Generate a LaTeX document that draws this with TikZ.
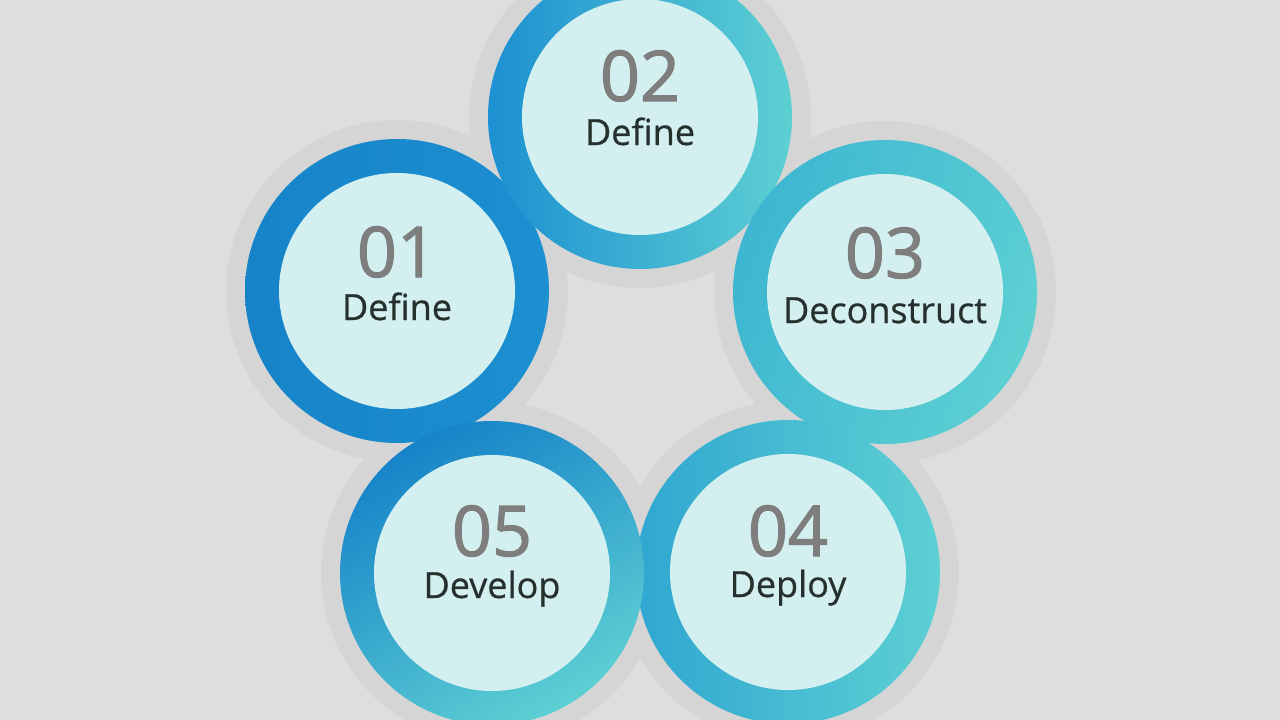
\documentclass[tikz,border=0pt]{standalone}
\usepackage{fontspec}
\setmainfont{Open Sans}
\newfontfamily\numfont[FakeBold=1.6]{Open Sans}
\newfontfamily\labfont[FakeBold=0.6]{Open Sans}
\definecolor{bggray}{HTML}{DEDEDE}
\definecolor{halogray}{HTML}{D5D5D5}
\definecolor{discfill}{HTML}{D4EFEF}
\definecolor{numgray}{HTML}{7E7E7E}
\definecolor{labdark}{HTML}{25302F}
\definecolor{blueA}{HTML}{1683C8}
\definecolor{blueB}{HTML}{1C90D1}
\definecolor{tealA}{HTML}{3DB6D1}
\definecolor{tealB}{HTML}{5DD0D3}
\tikzset{
  halo/.style={circle, fill=halogray, minimum size=342pt, inner sep=0pt},
  ringbase/.style={circle, minimum size=304pt, inner sep=0pt},
  disc/.style={circle, fill=discfill, minimum size=236pt, inner sep=0pt},
  numtext/.style={anchor=base, text=numgray, inner sep=0pt, font=\numfont\fontsize{70}{80}\selectfont},
  labtext/.style={anchor=base, text=labdark, inner sep=0pt, font=\labfont\fontsize{36}{43}\selectfont},
}
\begin{document}
\begin{tikzpicture}[x=1pt,y=-1pt]
\useasboundingbox (0,0) rectangle (1280,720);
\clip (0,0) rectangle (1280,720);
\fill[bggray] (0,0) rectangle (1280,720);
% centres
\coordinate (p1) at (397,291);
\coordinate (p2) at (640,117);
\coordinate (p3) at (885,292);
\coordinate (p4) at (788,572);
\coordinate (p5) at (492,573);
% halos
\foreach \i in {1,...,5} { \node[halo] (h\i) at (p\i) {}; }
% rings
\node[ringbase, top color=blueA, bottom color=blueB, shading angle=90] (r1) at (p1) {};
\node[ringbase, top color=blueB, bottom color=tealB, shading angle=90] (r2) at (p2) {};
\node[ringbase, top color=tealA, bottom color=tealB, shading angle=70] (r3) at (p3) {};
\node[ringbase, top color=tealA!60!blueB, bottom color=tealB, shading angle=90] (r4) at (p4) {};
\node[ringbase, top color=blueA, bottom color=tealB, shading angle=30] (r5) at (p5) {};
% inner discs
\foreach \i in {1,...,5} { \node[disc] (d\i) at (p\i) {}; }
% texts
\node[numtext] (n1) at ([yshift=14pt]d1.center) {01};
\node[labtext] (l1) at ([yshift=-29pt]d1.center) {Define};
\node[numtext] (n2) at ([yshift=16pt]d2.center) {02};
\node[labtext] (l2) at ([yshift=-28pt]d2.center) {Define};
\node[numtext] (n3) at ([yshift=14pt]d3.center) {03};
\node[labtext] (l3) at ([yshift=-31pt]d3.center) {Deconstruct};
\node[numtext] (n4) at ([yshift=16pt]d4.center) {04};
\node[labtext] (l4) at ([yshift=-25pt]d4.center) {Deploy};
\node[numtext] (n5) at ([yshift=17pt]d5.center) {05};
\node[labtext] (l5) at ([yshift=-25pt]d5.center) {Develop};
\end{tikzpicture}
\end{document}
